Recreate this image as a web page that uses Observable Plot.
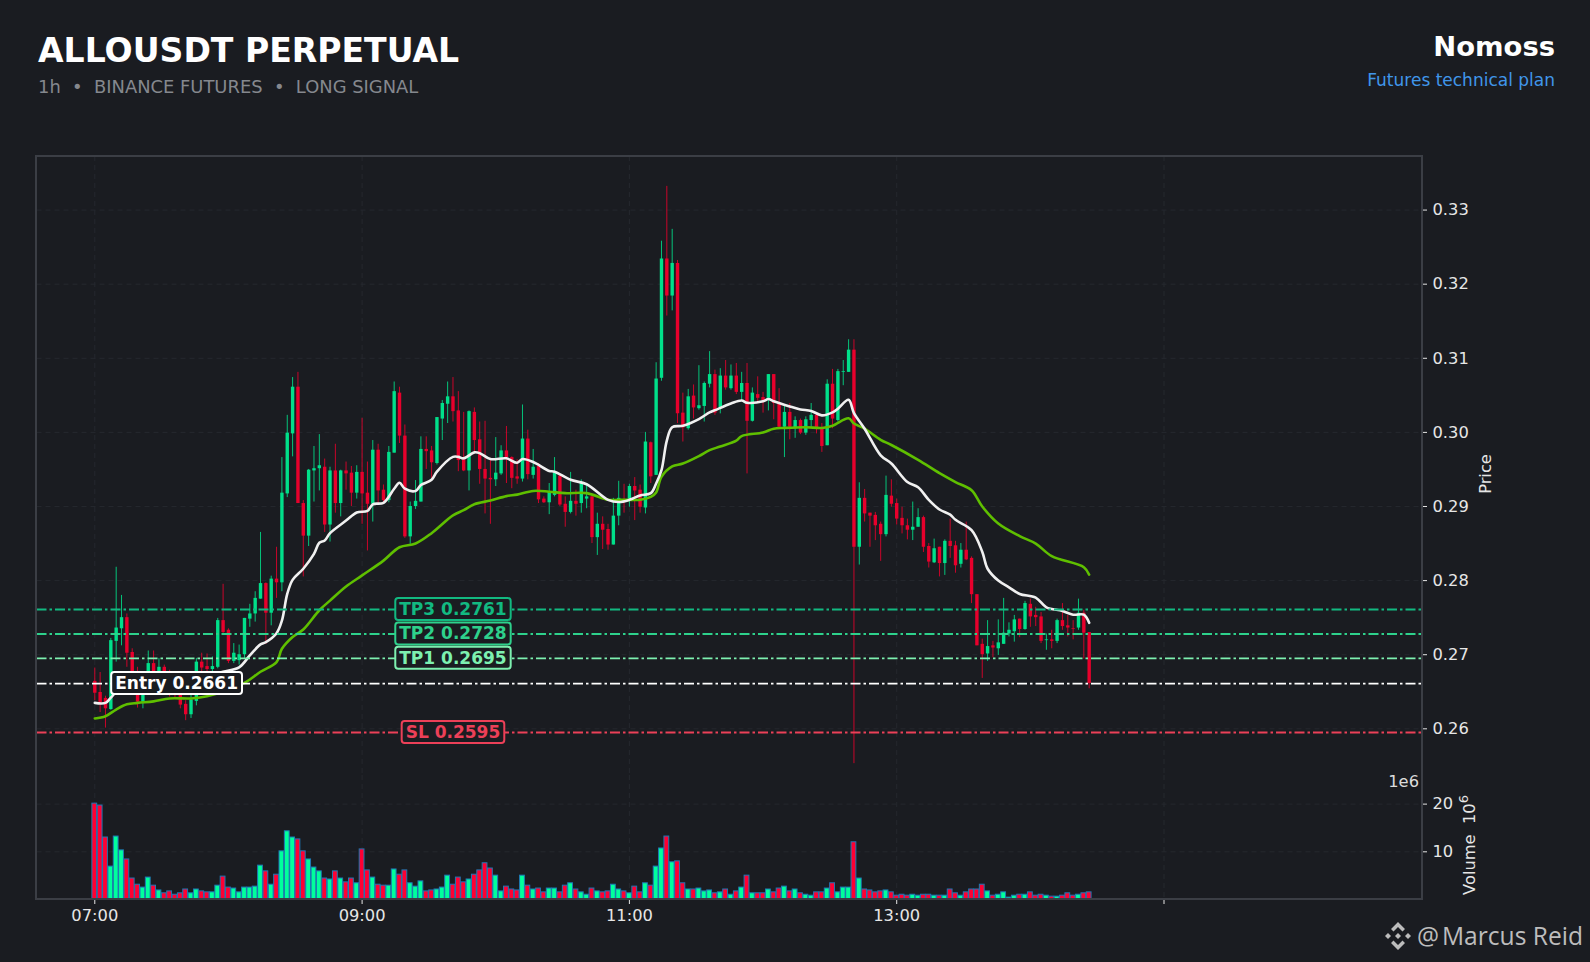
<!DOCTYPE html>
<html><head><meta charset="utf-8">
<script src="https://cdn.jsdelivr.net/npm/d3@7"></script>
<script src="https://cdn.jsdelivr.net/npm/@observablehq/plot@0.6"></script>
<style>
html,body{margin:0;padding:0;background:#1a1c21;width:1590px;height:962px;overflow:hidden}
#wrap{position:relative;width:1590px;height:962px;font-family:"DejaVu Sans",sans-serif}
#wrap>div>svg{position:absolute;left:0;top:0}
.t{position:absolute;white-space:pre;line-height:1}
</style></head><body>
<div id="wrap">
<div class="t" style="left:38px;top:34px;font-size:33.1px;font-weight:700;color:#fff">ALLOUSDT PERPETUAL</div>
<div class="t" style="left:38px;top:78px;font-size:17.9px;color:#85888e">1h  •  BINANCE FUTURES  •  LONG SIGNAL</div>
<div class="t" style="right:35px;top:33px;font-size:27.4px;font-weight:700;color:#fff">Nomoss</div>
<div class="t" style="right:35px;top:72px;font-size:17px;color:#4096ea">Futures technical plan</div>
<div id="p1"></div><div id="p2"></div>
<div style="position:absolute;left:35px;top:155px;width:1384px;height:741px;border:2px solid #3b3e45"></div>
<div class="t" style="left:1419px;top:774px;font-size:16.3px;color:#dcdcdc;transform:translateX(-100%)">1e6</div>
<div class="t" style="left:1470px;top:845px;font-size:16.3px;color:#e6e6e6;transform:translate(-50%,-50%) rotate(-90deg)">Volume  10<span style="font-size:13px;position:relative;top:-7px">6</span></div>
<svg style="position:absolute;left:1384px;top:922px" width="28" height="28" viewBox="-14 -14 28 28" fill="#bcbcbc">
<path d="M0,-14 L7,-7 L4.5,-4.5 L0,-9 L-4.5,-4.5 L-7,-7Z"/><path d="M0,14 L7,7 L4.5,4.5 L0,9 L-4.5,4.5 L-7,7Z"/>
<path d="M0,-3 L3,0 L0,3 L-3,0Z"/><path d="M-10,-3 L-7,0 L-10,3 L-13,0Z"/><path d="M10,-3 L13,0 L10,3 L7,0Z"/></svg>
<div class="t" style="left:1417px;top:924px;font-family:'Open Sans',sans-serif;font-size:24.6px;color:#bdbdbd">@</div>
<div class="t" style="left:1442px;top:924px;font-family:'Open Sans',sans-serif;font-size:24.6px;color:#bdbdbd">Marcus Reid</div>
</div>
<script>
const opens=[.2664,.2649,.2641,.2626,.2718,.2735,.2750,.2703,.2674,.2636,.2656,.2688,.2656,.2683,.2674,.2670,.2647,.2633,.2619,.2637,.2690,.2684,.2680,.2683,.2746,.2733,.2691,.2692,.2700,.2748,.2755,.2775,.2796,.2756,.2802,.2797,.2917,.2998,.3061,.2904,.2860,.2948,.2951,.2953,.2875,.2948,.2904,.2948,.2945,.2918,.2946,.2918,.2903,.2976,.2922,.2908,.2972,.3053,.2995,.2859,.2900,.2906,.2977,.2975,.2958,.3018,.3038,.3048,.3029,.2963,.2948,.3027,.2990,.2950,.2938,.2936,.2944,.2975,.2966,.2940,.2937,.2991,.2942,.2954,.2910,.2905,.2915,.2941,.2903,.2892,.2907,.2904,.2910,.2913,.2858,.2876,.2869,.2848,.2887,.2909,.2908,.2927,.2922,.2898,.2986,.2942,.3073,.3234,.3184,.3228,.3026,.3005,.3049,.3032,.3035,.3065,.3078,.3033,.3076,.3059,.3076,.3054,.3066,.3015,.3051,.3047,.3046,.3078,.3039,.3007,.3027,.3005,.3016,.2999,.3016,.3023,.3004,.2982,.3065,.3016,.3081,.3081,.3111,.2845,.2911,.2891,.2888,.2876,.2862,.2914,.2904,.2884,.2874,.2868,.2872,.2885,.2846,.2824,.2845,.2823,.2853,.2847,.2822,.2841,.2830,.2781,.2714,.2701,.2712,.2708,.2714,.2728,.2731,.2748,.2734,.2768,.2753,.2751,.2719,.2720,.2718,.2746,.2739,.2735,.2736,.2756,.2730];
const highs=[.2682,.2676,.2644,.2722,.2818,.2780,.2755,.2708,.2683,.2674,.2705,.2705,.2695,.2686,.2679,.2674,.2656,.2638,.2652,.2695,.2702,.2701,.2697,.2749,.2795,.2735,.2715,.2713,.2749,.2768,.2785,.2865,.2797,.2806,.2845,.2966,.3023,.3074,.3081,.2908,.2950,.2981,.2997,.2964,.2953,.2984,.2949,.2960,.2954,.2955,.3019,.2960,.2989,.2984,.2929,.2981,.3068,.3061,.3010,.2906,.2935,.2994,.2994,.2981,.3020,.3043,.3068,.3074,.3055,.3027,.3029,.3033,.3014,.3015,.2965,.2993,.2982,.3008,.2967,.2963,.3037,.3003,.2977,.2958,.2913,.2931,.2966,.2942,.2913,.2946,.2922,.2936,.2931,.2914,.2891,.2886,.2876,.2911,.2934,.2930,.2930,.2939,.2929,.3000,.2987,.3094,.3258,.3332,.3274,.3232,.3053,.3058,.3064,.3090,.3068,.3109,.3084,.3086,.3097,.3091,.3093,.3081,.3093,.3060,.3075,.3054,.3078,.3078,.3059,.3036,.3039,.3021,.3018,.3021,.3039,.3025,.3012,.3071,.3085,.3085,.3097,.3125,.3125,.2932,.2923,.2891,.2892,.2879,.2941,.2936,.2910,.2899,.2883,.2906,.2897,.2887,.2850,.2856,.2845,.2855,.2883,.2853,.2850,.2879,.2832,.2781,.2721,.2746,.2718,.2747,.2776,.2743,.2753,.2748,.2772,.2775,.2764,.2757,.2728,.2733,.2748,.2769,.2753,.2746,.2775,.2760,.2730];
const lows=[.2638,.2622,.2601,.2625,.2690,.2712,.2683,.2665,.2628,.2627,.2647,.2647,.2647,.2647,.2643,.2641,.2627,.2611,.2614,.2631,.2656,.2656,.2674,.2681,.2728,.2688,.2688,.2686,.2695,.2737,.2744,.2775,.2714,.2739,.2776,.2785,.2912,.2967,.2904,.2805,.2846,.2906,.2921,.2865,.2852,.2891,.2886,.2922,.2900,.2910,.2876,.2840,.2879,.2904,.2904,.2905,.2972,.2985,.2857,.2849,.2896,.2906,.2950,.2938,.2956,.2989,.3012,.3014,.2947,.2947,.2921,.2974,.2930,.2890,.2876,.2927,.2942,.2931,.2924,.2930,.2933,.2936,.2937,.2904,.2904,.2889,.2913,.2900,.2872,.2890,.2887,.2891,.2897,.2850,.2834,.2842,.2841,.2848,.2874,.2891,.2899,.2881,.2891,.2890,.2931,.2942,.3069,.3157,.3164,.3012,.2987,.3003,.3018,.3030,.3014,.3060,.3023,.3025,.3057,.3057,.3051,.3043,.2944,.3014,.3039,.3026,.3029,.3017,.3005,.2966,.2990,.2992,.2997,.2996,.3007,.2998,.2973,.2982,.3005,.3014,.3063,.3081,.2553,.2821,.2879,.2845,.2854,.2826,.2859,.2899,.2875,.2863,.2855,.2854,.2872,.2838,.2817,.2823,.2805,.2807,.2830,.2810,.2817,.2827,.2769,.2712,.2668,.2691,.2696,.2699,.2714,.2724,.2717,.2723,.2733,.2737,.2738,.2715,.2706,.2708,.2715,.2733,.2724,.2720,.2733,.2694,.2654];
const closes=[.2648,.2634,.2627,.2719,.2736,.2750,.2702,.2674,.2636,.2656,.2688,.2656,.2683,.2656,.2650,.2647,.2632,.2619,.2639,.2690,.2682,.2680,.2684,.2746,.2730,.2691,.2702,.2700,.2749,.2755,.2776,.2796,.2756,.2802,.2797,.2918,.2999,.3061,.2904,.2860,.2949,.2951,.2955,.2875,.2948,.2904,.2948,.2944,.2918,.2946,.2917,.2903,.2976,.2921,.2908,.2973,.3055,.2995,.2859,.2900,.2907,.2977,.2974,.2959,.3020,.3039,.3048,.3028,.2962,.2948,.3028,.2989,.2950,.2937,.2936,.2945,.2975,.2966,.2938,.2937,.2991,.2943,.2953,.2909,.2905,.2919,.2945,.2902,.2892,.2907,.2903,.2931,.2913,.2858,.2876,.2868,.2848,.2887,.2911,.2907,.2927,.2921,.2899,.2987,.2940,.3072,.3234,.3184,.3228,.3025,.3006,.3048,.3033,.3036,.3066,.3078,.3026,.3076,.3060,.3076,.3054,.3066,.3015,.3053,.3046,.3043,.3078,.3039,.3007,.3027,.3007,.3016,.2999,.3017,.3023,.3004,.2981,.3065,.3018,.3082,.3082,.3111,.2845,.2911,.2890,.2887,.2874,.2862,.2915,.2903,.2883,.2874,.2868,.2872,.2885,.2845,.2825,.2843,.2823,.2853,.2846,.2820,.2841,.2828,.2781,.2712,.2700,.2711,.2709,.2716,.2729,.2733,.2747,.2734,.2769,.2751,.2750,.2718,.2720,.2718,.2746,.2738,.2736,.2734,.2756,.2729,.2661];
const volumes=[20.1,19.7,13.0,6.9,13.2,10.3,8.4,4.4,3.1,2.5,4.6,2.9,1.9,1.3,1.7,1.0,1.3,2.1,1.3,2.1,1.7,1.5,1.5,2.9,4.8,2.5,2.3,1.5,2.5,2.5,2.7,7.1,5.9,3.1,5.2,10.1,14.3,13.0,12.6,10.1,8.4,6.7,5.9,4.4,4.2,5.9,4.4,3.6,4.4,3.4,10.5,6.1,4.6,3.1,2.9,2.9,6.3,5.2,6.1,3.4,2.7,3.8,1.7,1.9,2.1,2.5,5.0,3.1,4.6,3.6,4.2,5.2,6.1,7.6,6.5,5.0,1.7,2.7,2.1,1.9,5.0,2.9,2.1,2.3,1.5,2.3,2.3,1.5,2.9,3.4,2.1,1.5,1.0,2.3,1.7,1.5,1.7,3.1,2.1,1.7,1.3,2.7,1.5,3.4,2.9,6.9,10.7,13.2,7.8,8.0,3.4,2.1,2.1,2.3,1.7,1.9,1.3,1.5,2.1,1.0,1.7,2.5,5.0,1.3,1.3,1.3,2.1,1.5,2.3,2.7,1.7,2.1,1.3,1.0,0.8,1.5,1.5,2.3,3.4,1.5,2.5,2.5,12.0,4.4,2.1,1.9,1.5,1.7,1.9,1.5,0.8,1.0,0.8,1.0,0.8,1.0,1.0,0.8,0.8,0.8,2.1,1.3,0.8,1.5,2.1,2.1,3.1,1.7,0.8,1.0,1.5,0.4,0.8,1.0,1.0,1.5,0.8,1.0,0.8,0.6,0.6,0.8,1.3,0.8,1.0,1.3,1.5];

const fastIdx=[0,2,3,5,10,15,20,24,27,29,31,32,34,35,36,37,39,41,42,43,44,47,49,51,52,54,56,57,58,60,61,63,64,67,68,69,71,72,74,77,79,80,82,85,86,89,92,96,98,100,102,104,105,106,107,108,110,113,115,116,119,121,122,125,126,127,130,132,134,136,138,139,141,142,144,147,149,152,154,156,158,160,161,164,166,167,169,171,173,176,178,181,183,185,186];
const fastVal=[.2635,.2635,.2642,.2656,.2663,.2665,.2669,.2677,.2683,.2699,.2714,.2717,.2729,.2746,.2782,.2801,.2816,.2836,.2851,.2854,.2864,.2881,.2892,.2894,.2903,.2905,.2924,.2932,.2924,.2921,.2929,.2936,.2947,.2967,.2967,.2965,.2973,.2972,.2964,.2965,.2959,.2964,.2960,.2948,.2947,.2936,.2930,.2909,.2906,.2909,.2915,.2918,.2931,.2949,.2989,.3007,.3009,.3018,.3027,.3030,.3039,.3043,.3040,.3042,.3045,.3042,.3035,.3031,.3029,.3023,.3027,.3032,.3044,.3026,.3005,.2969,.2958,.2933,.2926,.2909,.2896,.2889,.2882,.2868,.2839,.2816,.2800,.2791,.2782,.2777,.2764,.2759,.2754,.2754,.2743];
const slowIdx=[0,2,4,6,8,11,14,18,21,28,31,34,35,37,39,42,44,47,50,54,57,60,63,67,69,71,74,77,79,82,85,88,92,96,98,100,102,104,105,106,108,110,113,115,117,120,121,125,127,129,133,136,138,141,142,144,147,149,154,158,161,164,166,169,173,176,179,185,186];
const slowVal=[.2614,.2617,.2626,.2633,.2635,.2637,.2641,.2641,.2644,.2662,.2677,.2690,.2708,.2724,.2734,.2760,.2773,.2792,.2807,.2827,.2845,.2850,.2864,.2888,.2895,.2903,.2908,.2914,.2916,.2921,.2920,.2918,.2918,.2909,.2909,.2909,.2909,.2913,.2919,.2940,.2954,.2958,.2968,.2976,.2981,.2989,.2995,.3000,.3005,.3006,.3007,.3006,.3009,.3019,.3012,.3005,.2990,.2983,.2963,.2945,.2933,.2922,.2900,.2877,.2860,.2850,.2833,.2818,.2808];

const levelNames=["TP3","TP2","TP1","Entry","SL"];
const levelPrices=[.2761,.2728,.2695,.2661,.2595];
const levelColors=["#12b981","#2ed18c","#7df0b0","#ffffff","#ec4058"];
const priceTicks=[.26,.27,.28,.29,.30,.31,.32,.33];
const volumeTicks=[10,20];
const timeTickIdx=[0,50,100,150,200];
const timeTickLabels=["07:00","09:00","11:00","13:00",""];

const UP="#00e08a",DOWN="#e8002c",VUP="#00ff9c",VDOWN="#ff0033",GRID="#25282e",BG="#1a1c21";
const candles=opens.map((o,i)=>({i,o,h:highs[i],l:lows[i],c:closes[i],v:volumes[i],up:closes[i]>=o}));
const fast=fastIdx.map((i,k)=>({i,p:fastVal[k]}));
const slow=slowIdx.map((i,k)=>({i,p:slowVal[k]}));
const levels=levelNames.map((n,k)=>({n,p:levelPrices[k],col:levelColors[k],at:n==="Entry"?15.3:67}));
const xDomain=[-10.81,248.35];
const style={background:"transparent",color:"#e6e6e6",fontFamily:"DejaVu Sans",fontSize:"16.3px",overflow:"visible"};

const price=Plot.plot({
  width:1590,height:962,marginTop:156,marginBottom:187,marginLeft:36.5,marginRight:168,style,
  x:{domain:xDomain,axis:null},
  y:{domain:[.2537,.33723],axis:null},
  marks:[
    Plot.gridX(timeTickIdx,{stroke:GRID,strokeOpacity:1,strokeDasharray:"5,4"}),
    Plot.gridY(priceTicks,{stroke:GRID,strokeOpacity:1,strokeDasharray:"5,4"}),
    Plot.ruleX(candles,{x:"i",y1:"l",y2:"h",stroke:d=>d.up?UP:DOWN,strokeWidth:1,strokeOpacity:.85}),
    Plot.ruleX(candles,{x:"i",y1:"o",y2:"c",stroke:d=>d.up?UP:DOWN,strokeWidth:3.4}),
    Plot.line(slow,{x:"i",y:"p",stroke:"#5fbf00",strokeWidth:2.6,curve:"catmull-rom"}),
    Plot.line(fast,{x:"i",y:"p",stroke:"#f0f0f0",strokeWidth:2.6,curve:"catmull-rom"}),
    Plot.ruleY(levels,{y:"p",stroke:"col",strokeWidth:1.9,strokeDasharray:"10,3,2.5,3"}),
    Plot.text(levels,{x:"at",y:"p",text:d=>`${d.n} ${d.p.toFixed(4)}`,fill:"col",fontWeight:700,fontSize:17,className:"lvl"}),
    Plot.axisY(priceTicks,{anchor:"right",tickSize:4,tickPadding:6,tickFormat:d3.format(".2f"),label:null}),
    Plot.text(["Price"],{frameAnchor:"right",textAnchor:"middle",dx:63.5,dy:8,rotate:-90,fill:"#e6e6e6",fontSize:16.3})
  ]
});
const volume=Plot.plot({
  width:1590,height:962,marginTop:775,marginBottom:63,marginLeft:36.5,marginRight:168,style,
  x:{domain:xDomain,axis:null},
  y:{domain:[0,26],axis:null},
  marks:[
    Plot.gridX(timeTickIdx,{stroke:GRID,strokeOpacity:1,strokeDasharray:"5,4"}),
    Plot.gridY(volumeTicks,{stroke:GRID,strokeOpacity:1,strokeDasharray:"5,4"}),
    Plot.rectY(candles,{x1:d=>d.i-.45,x2:d=>d.i+.45,y:"v",fill:d=>d.up?VUP:VDOWN,stroke:"#1f77b4",strokeWidth:1}),
    Plot.axisY(volumeTicks,{anchor:"right",tickSize:4,tickPadding:6,label:null}),
    Plot.axisX(timeTickIdx,{anchor:"bottom",tickSize:5,tickPadding:5,tickFormat:d=>timeTickLabels[timeTickIdx.indexOf(d)],label:null})
  ]
});
document.getElementById("p1").append(price);
document.getElementById("p2").append(volume);
document.querySelectorAll("g.lvl text").forEach(t=>{
  const b=t.getBBox();
  const r=document.createElementNS("http://www.w3.org/2000/svg","rect");
  r.setAttribute("x",b.x-4);r.setAttribute("y",b.y-1);
  r.setAttribute("width",b.width+8);r.setAttribute("height",b.height+2);
  r.setAttribute("rx",3);r.setAttribute("fill",BG);
  if(t.getAttribute("transform"))r.setAttribute("transform",t.getAttribute("transform"));
  r.setAttribute("stroke",t.getAttribute("fill"));r.setAttribute("stroke-width",2);
  t.parentNode.insertBefore(r,t);
});
</script>
</body></html>
